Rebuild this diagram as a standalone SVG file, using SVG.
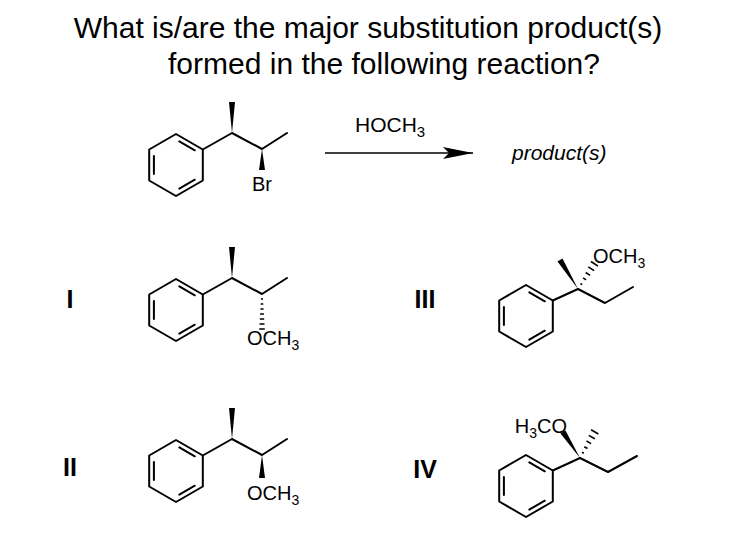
<svg xmlns="http://www.w3.org/2000/svg" xmlns:xlink="http://www.w3.org/1999/xlink" width="740" height="540" viewBox="0 0 740 540">
<style>
.b{stroke:#000;stroke-width:2;fill:none;stroke-linecap:round;stroke-linejoin:round}
.h{stroke:#000;stroke-width:1.6}
text{font-family:"Liberation Sans",Arial,sans-serif;fill:#000}
.lab{font-size:20px}
.num{font-size:25px;font-weight:bold}
</style>
<defs>
<g id="bz">
<polygon class="b" points="0,-31 26.8,-15.5 26.8,15.5 0,31 -26.8,15.5 -26.8,-15.5"/>
<path class="b" d="M3.3,-23.6L18.8,-14.7M18.8,14.7L3.3,23.6M-22.1,-9L-22.1,9"/>
</g>
<marker id="ar" viewBox="0 0 30 12" refX="30" refY="6" markerWidth="30" markerHeight="12" markerUnits="userSpaceOnUse" orient="auto"><path d="M0,0L30,6L0,12L6,6Z" fill="#000"/></marker>
</defs>
<text x="368" y="38" font-size="30" text-anchor="middle">What is/are the major substitution product(s)</text>
<text x="384" y="74" font-size="30" text-anchor="middle">formed in the following reaction?</text>
<g id="reactant">
<use xlink:href="#bz" x="176" y="165"/>
<path class="b" d="M202.8,149.5L232,133L262,149L287,133"/>
<polygon points="232,133 229,102 235,102"/>
<polygon points="262,149 259,170 265,170"/>
<text x="262" y="191" class="lab" text-anchor="middle">Br</text>
</g>
<g id="connectors">
<line x1="325" y1="153" x2="473" y2="153" stroke="#000" stroke-width="1.6" marker-end="url(#ar)"/>
</g>
<g id="arrowlabels">
<text x="355" y="132" font-size="21">HOCH<tspan font-size="15" dy="5">3</tspan></text>
<text x="512" y="160" font-size="21" font-style="italic">product(s)</text>
</g>
<g id="I" transform="translate(0,145)">
<use xlink:href="#bz" x="176" y="165"/>
<path class="b" d="M202.8,149.5L232,133L262,149L287,133"/>
<polygon points="232,133 229,102 235,102"/>
<path class="h" d="M261,154H263M260.7,159H263.3M260.4,164H263.6M260.1,169H263.9M259.8,174H264.2M259.5,179H264.5M259.2,184H264.8"/>
<text x="247" y="200" class="lab">OCH<tspan font-size="14" dy="5">3</tspan></text>
</g>
<text x="70" y="308" class="num" text-anchor="middle">I</text>
<g id="II" transform="translate(0,306)">
<use xlink:href="#bz" x="176" y="165"/>
<path class="b" d="M202.8,149.5L232,133L262,149L287,133"/>
<polygon points="232,133 229,102 235,102"/>
<polygon points="262,149 259,172 265,172"/>
<text x="247" y="194" class="lab">OCH<tspan font-size="14" dy="5">3</tspan></text>
</g>
<text x="70" y="476" class="num" text-anchor="middle">II</text>
<g id="III">
<use xlink:href="#bz" x="526" y="316"/>
<path class="b" d="M552.8,300.5L578,289L605,303L633,287"/>
<polygon points="578,289 557.5,261.6 562.5,258.4"/>
<path class="h" d="M580.5,283.5L582.1,284.6M583.1,277.9L586.1,279.9M585.7,272.5L590.1,275.3M588.3,266.9L594.1,270.7M591,261.5L598,266.1"/>
<text x="593" y="263" class="lab">OCH<tspan font-size="14" dy="5">3</tspan></text>
</g>
<text x="425" y="308" class="num" text-anchor="middle">III</text>
<g id="IV">
<use xlink:href="#bz" x="526" y="486"/>
<path class="b" d="M552.8,470.5L580,458L608,472L637,456"/>
<polygon points="580,458 560.5,433.6 565.5,430.4"/>
<path class="h" d="M582,452.3L583.8,453.3M584.3,446.7L587.5,448.5M586.5,441L591.1,443.6M588.8,435.4L594.8,438.8M591.1,429.8L598.4,434"/>
<text x="567" y="433" class="lab" text-anchor="end">H<tspan font-size="14" dy="5">3</tspan><tspan dy="-5">CO</tspan></text>
</g>
<text x="425" y="478" class="num" text-anchor="middle">IV</text>
</svg>
